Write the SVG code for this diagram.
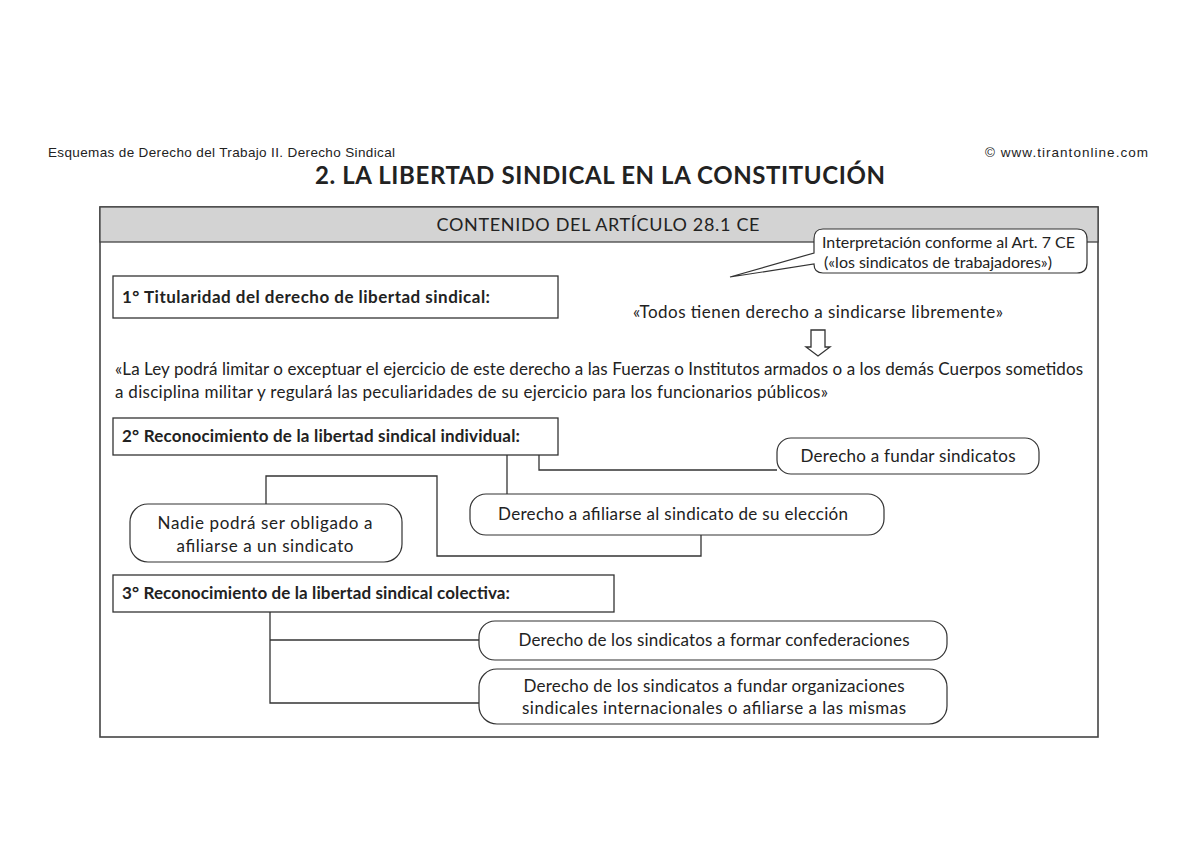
<svg xmlns="http://www.w3.org/2000/svg" width="1200" height="850" viewBox="0 0 1200 850">
<style>
.bg{fill:#ffffff}
.frame{fill:none;stroke:#444;stroke-width:1.6}
.band{fill:#d3d3d3;stroke:#444;stroke-width:1.3}
.box{fill:#ffffff;stroke:#333;stroke-width:1.3}
.pill{fill:#ffffff;stroke:#333;stroke-width:1.2}
.conn{fill:none;stroke:#333;stroke-width:1.3}
.t{font-family:Lato,"Open Sans",sans-serif;font-size:17px;fill:#222}
.b{font-family:Lato,"Open Sans",sans-serif;font-size:17px;font-weight:bold;fill:#222}
.c{text-anchor:middle}
.hdr{font-family:"Liberation Sans",Arial,sans-serif;font-size:13.5px;fill:#222}
.title{font-family:Lato,"Open Sans",sans-serif;font-size:24px;font-weight:bold;fill:#222;text-anchor:middle}
.band-t{font-family:Lato,"Open Sans",sans-serif;font-size:18px;fill:#222;text-anchor:middle}
</style>
<rect class="bg" x="0" y="0" width="1200" height="850"/>
<g id="page-header">
<text class="hdr" x="48" y="157" textLength="347">Esquemas de Derecho del Trabajo II. Derecho Sindical</text>
<text class="hdr" x="1148" y="157" text-anchor="end" textLength="163">© www.tirantonline.com</text>
<text class="title" x="600" y="184" textLength="570">2. LA LIBERTAD SINDICAL EN LA CONSTITUCIÓN</text>
</g>
<g id="frame">
<rect class="frame" x="100" y="207" width="998" height="530"/>
<rect class="band" x="100" y="207" width="998" height="35"/>
<text class="band-t" x="598" y="231" textLength="323">CONTENIDO DEL ARTÍCULO 28.1 CE</text>
</g>
<g id="callout">
<path class="pill" d="M823,229 H1077 Q1087,229 1087,239 V263 Q1087,273 1077,273 H823 Q814,273 814,264 L730,277 L814,253 V239 Q814,229 823,229 Z"/>
<text class="t" x="822" y="248" style="font-size:16px" textLength="253">Interpretación conforme al Art. 7 CE</text>
<text class="t" x="824" y="268" style="font-size:16px" textLength="228">(«los sindicatos de trabajadores»)</text>
</g>
<g id="titularidad">
<rect class="box" x="113" y="276" width="445" height="42"/>
<text class="b" x="122" y="303" textLength="368">1° Titularidad del derecho de libertad sindical:</text>
</g>
<g id="todos">
<text class="t c" x="818" y="318" textLength="370">«Todos tienen derecho a sindicarse libremente»</text>
</g>
<g id="down-arrow">
<path class="conn" d="M811,330 H825 V347 H830 L818,356 L806,347 H811 Z"/>
</g>
<g id="ley">
<text class="t" x="115" y="375" textLength="968">«La Ley podrá limitar o exceptuar el ejercicio de este derecho a las Fuerzas o Institutos armados o a los demás Cuerpos sometidos</text>
<text class="t" x="115" y="398" textLength="713">a disciplina militar y regulará las peculiaridades de su ejercicio para los funcionarios públicos»</text>
</g>
<g id="connectors">
<polyline class="conn" points="507,455 507,494"/>
<polyline class="conn" points="539,455 539,470 777,470"/>
<polyline class="conn" points="701,535 701,556 437,556 437,476 266,476 266,504"/>
<polyline class="conn" points="270,612 270,703 479,703"/>
<polyline class="conn" points="270,640 479,640"/>
</g>
<g id="individual">
<rect class="box" x="113" y="418" width="445" height="37"/>
<text class="b" x="122" y="442" textLength="398">2° Reconocimiento de la libertad sindical individual:</text>
</g>
<g id="fundar">
<rect class="pill" x="777" y="438" width="262" height="36" rx="14"/>
<text class="t c" x="908" y="462" textLength="215">Derecho a fundar sindicatos</text>
</g>
<g id="afiliarse">
<rect class="pill" x="470" y="494" width="414" height="41" rx="16"/>
<text class="t c" x="673" y="520" textLength="350">Derecho a afiliarse al sindicato de su elección</text>
</g>
<g id="nadie">
<rect class="pill" x="130" y="504" width="272" height="58" rx="18"/>
<text class="t c" x="265" y="529" textLength="215">Nadie podrá ser obligado a</text>
<text class="t c" x="265" y="552" textLength="177">afiliarse a un sindicato</text>
</g>
<g id="colectiva">
<rect class="box" x="113" y="575" width="501" height="37"/>
<text class="b" x="122" y="599" textLength="388">3° Reconocimiento de la libertad sindical colectiva:</text>
</g>
<g id="confederaciones">
<rect class="pill" x="479" y="621" width="468" height="39" rx="16"/>
<text class="t c" x="714" y="646" textLength="391">Derecho de los sindicatos a formar confederaciones</text>
</g>
<g id="internacionales">
<rect class="pill" x="479" y="669" width="468" height="55" rx="18"/>
<text class="t c" x="714" y="692" textLength="381">Derecho de los sindicatos a fundar organizaciones</text>
<text class="t c" x="714" y="714" textLength="384">sindicales internacionales o afiliarse a las mismas</text>
</g>
</svg>
